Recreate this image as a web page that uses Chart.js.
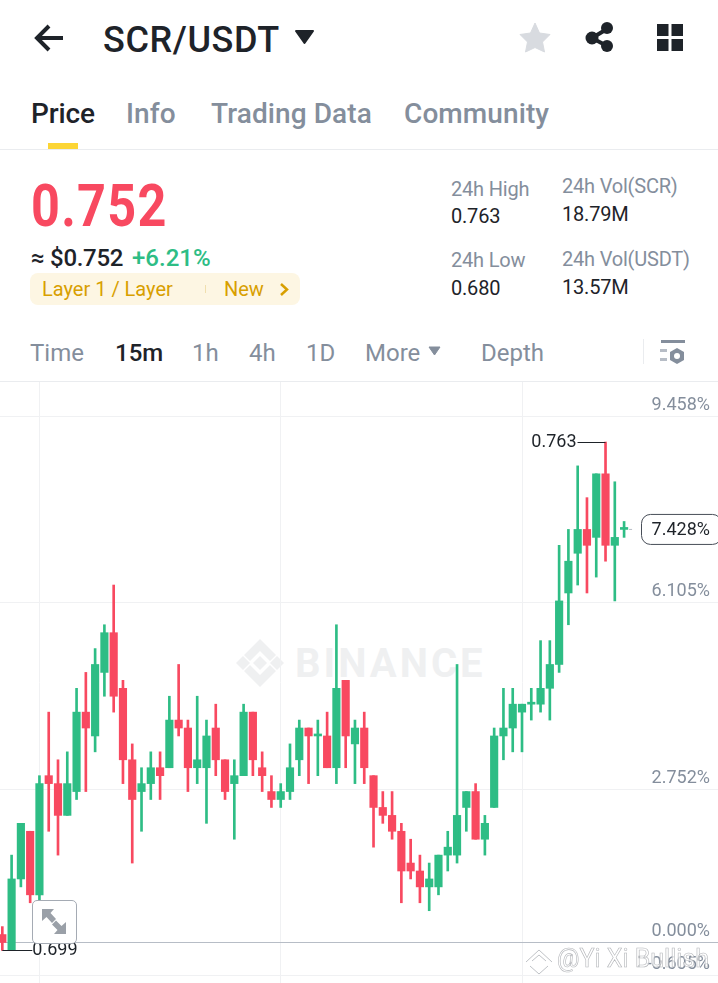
<!DOCTYPE html>
<html>
<head>
<meta charset="utf-8">
<script src="https://cdn.jsdelivr.net/npm/chart.js@4"></script>
<style>
  html, body { margin: 0; padding: 0; background: #fff; }
  body { width: 718px; height: 983px; position: relative; overflow: hidden; font-family: Roboto, sans-serif; color: #1e2329; }
  .t { position: absolute; white-space: nowrap; line-height: 1; }
  .gray { color: #848e9c; }
  .tab { font-size: 28px; top: 100px; color: #848e9c; font-weight: 500; letter-spacing: 0.1px; }
  .stat { font-size: 20px; letter-spacing: -0.2px; }
  .per { font-size: 24px; top: 341px; color: #848e9c; }
  .hr { position: absolute; left: 0; width: 718px; height: 1px; background: #eaecef; }
  svg { position: absolute; overflow: visible; }
  #kline { position: absolute; left: 0; top: 382px; }
</style>
</head>
<body>

<!-- top bar -->
<svg style="left:0;top:0" width="718" height="60">
  <path d="M63 38H38M49 26L37 38L49 50" fill="none" stroke="#1e2329" stroke-width="4"/>
  <path d="M296 31H313L304.500 43Z" fill="#1e2329" stroke="#1e2329" stroke-width="2" stroke-linejoin="round"/>
  <path d="M535 23L539.500 33L550 34.500L542.500 42L544.500 52L535 47.500L525.500 52L527.500 42L520 34.500L530.500 33Z" fill="#d8dbe0" stroke="#d8dbe0" stroke-linejoin="round"/>
  <path d="M607 29L592 38L607 46" fill="none" stroke="#1e2329" stroke-width="4"/>
  <circle cx="607" cy="28" r="6" fill="#1e2329"/><circle cx="592" cy="38" r="6.500" fill="#1e2329"/><circle cx="607" cy="46" r="6" fill="#1e2329"/>
  <rect x="657" y="24" width="11.500" height="12" fill="#1e2329"/><rect x="671.500" y="24" width="11.500" height="12" fill="#1e2329"/>
  <rect x="657" y="39" width="11.500" height="12" fill="#1e2329"/><rect x="671.500" y="39" width="11.500" height="12" fill="#1e2329"/>
</svg>
<div class="t" style="left:103px;top:22px;font-size:36px;font-weight:500;letter-spacing:0.6px">SCR/USDT</div>

<!-- tabs -->
<div class="t tab" style="left:31px;color:#1e2329;letter-spacing:-0.1px">Price</div>
<div class="t tab" style="left:126px">Info</div>
<div class="t tab" style="left:211px">Trading Data</div>
<div class="t tab" style="left:404px">Community</div>
<div style="position:absolute;left:48px;top:143px;width:30px;height:6px;background:#fcd535"></div>
<div class="hr" style="top:149px"></div>

<!-- price block -->
<div class="t" style="left:31px;top:176px;font-size:60px;font-weight:700;color:#f84960;letter-spacing:1.500px;transform:scaleX(0.84);transform-origin:left">0.752</div>
<div class="t" style="left:31px;top:246px;font-size:24px;letter-spacing:-0.3px;font-weight:500">≈ $0.752</div>
<div class="t" style="left:132px;top:246px;font-size:24px;color:#2ebd85;font-weight:500">+6.21%</div>
<div style="position:absolute;left:30px;top:273px;width:270px;height:32px;background:#fdf6e3;border-radius:8px"></div>
<div class="t" style="left:42px;top:279px;font-size:20px;color:#d89f00">Layer 1 / Layer</div>
<div style="position:absolute;left:205px;top:285px;width:1px;height:8px;background:#f0dfae"></div>
<div class="t" style="left:224px;top:279px;font-size:20px;color:#d89f00">New</div>
<svg style="left:0;top:0" width="718" height="320">
  <path d="M281 284L287 289.500L281 295" fill="none" stroke="#d89f00" stroke-width="2.500"/>
</svg>

<!-- 24h stats -->
<div class="t stat gray" style="left:451px;top:179px">24h High</div>
<div class="t stat" style="left:451px;top:206px">0.763</div>
<div class="t stat gray" style="left:562px;top:176px">24h Vol(SCR)</div>
<div class="t stat" style="left:562px;top:204px">18.79M</div>
<div class="t stat gray" style="left:451px;top:250px">24h Low</div>
<div class="t stat" style="left:451px;top:278px">0.680</div>
<div class="t stat gray" style="left:562px;top:249px">24h Vol(USDT)</div>
<div class="t stat" style="left:562px;top:277px">13.57M</div>

<!-- interval bar -->
<div class="t per" style="left:30px">Time</div>
<div class="t per" style="left:115px;color:#1e2329;font-weight:500">15m</div>
<div class="t per" style="left:192px">1h</div>
<div class="t per" style="left:249px">4h</div>
<div class="t per" style="left:306px">1D</div>
<div class="t per" style="left:365px">More</div>
<div class="t per" style="left:481px">Depth</div>
<svg style="left:0;top:0" width="718" height="382">
  <path d="M429 347H440L434.500 355Z" fill="#848e9c" stroke="#848e9c" stroke-linejoin="round"/>
  <rect x="643" y="339" width="1" height="25" fill="#eaecef"/>
  <rect x="661" y="340" width="24" height="3" fill="#848e9c"/>
  <rect x="660" y="349" width="7" height="3" fill="#b7bdc6"/>
  <rect x="660" y="358" width="7" height="3" fill="#b7bdc6"/>
  <path d="M677 348L684 352V360L677 364L670 360V352Z" fill="#848e9c"/>
  <circle cx="677" cy="356" r="3" fill="#fff"/>
</svg>
<div class="hr" style="top:381px"></div>

<!-- watermark behind the candles -->
<svg style="left:0;top:0" width="718" height="983">
  <g fill="#eff0f1">
    <path d="M260 639L276 655L270 661L260 651L250 661L244 655Z"/>
    <path d="M260 687L276 671L270 665L260 675L250 665L244 671Z"/>
    <path d="M260 656L267 663L260 670L253 663Z"/>
    <path d="M243 656L250 663L243 670L236 663Z"/>
    <path d="M277 656L284 663L277 670L270 663Z"/>
  </g>
</svg>
<div class="t" style="left:295px;top:644px;font-size:40px;font-weight:700;color:#eff0f1;letter-spacing:3px">BINANCE</div>

<canvas id="kline" width="718" height="601"></canvas>

<!-- expand button -->
<div style="position:absolute;left:32px;top:900px;width:43px;height:42px;background:#fff;border:1px solid #a5abb4;border-radius:5px"></div>
<svg style="left:0;top:0" width="718" height="983">
  <path d="M42 909H54L50.500 913L56 919L52 923L46.500 917L42 921Z" fill="#9aa0a8"/>
  <path d="M66 934H54L57.500 930L52 924.500L56 920.500L61.500 926L66 922Z" fill="#9aa0a8"/>
</svg>

<!-- repost watermark -->
<svg style="left:0;top:0" width="718" height="983">
  <path d="M526 962L539 950L552 962M532 961L539 955L546 961M530 966L539 974L548 966" fill="none" stroke="#bfc2c6" stroke-width="1"/>
</svg>
<div class="t" style="left:557px;top:946px;font-size:25px;color:rgba(255,255,255,0.75);-webkit-text-stroke:0.6px #b4b6ba">@Yi Xi Bullish</div>

<script>
// ─────────────────────────────────────────────
//  Candle data (USDT)
// ─────────────────────────────────────────────
const opens = [
  0.701, 0.699, 0.708, 0.714, 0.706, 0.721, 0.720, 0.716, 0.719, 0.729,
  0.726, 0.734, 0.739, 0.732, 0.723, 0.719, 0.720, 0.722, 0.722, 0.728,
  0.727, 0.722, 0.722, 0.727, 0.723, 0.720, 0.721, 0.729, 0.722, 0.719,
  0.718, 0.719, 0.723, 0.727, 0.726, 0.726, 0.722, 0.733, 0.725, 0.727,
  0.721, 0.717, 0.716, 0.714, 0.710, 0.709, 0.707, 0.707, 0.711, 0.711,
  0.717, 0.719, 0.713, 0.717, 0.726, 0.727, 0.729, 0.730, 0.730, 0.732,
  0.735, 0.744, 0.749, 0.752, 0.751, 0.759, 0.750, 0.752,
];
const closes = [
  0.700, 0.708, 0.715, 0.706, 0.720, 0.720, 0.716, 0.720, 0.729, 0.727,
  0.735, 0.739, 0.731, 0.723, 0.718, 0.720, 0.722, 0.721, 0.728, 0.727,
  0.722, 0.723, 0.726, 0.723, 0.719, 0.721, 0.729, 0.723, 0.721, 0.718,
  0.719, 0.722, 0.727, 0.726, 0.726, 0.722, 0.732, 0.726, 0.727, 0.722,
  0.717, 0.716, 0.714, 0.709, 0.709, 0.707, 0.708, 0.711, 0.712, 0.716,
  0.719, 0.713, 0.715, 0.726, 0.727, 0.730, 0.730, 0.730, 0.732, 0.735,
  0.743, 0.748, 0.752, 0.750, 0.759, 0.750, 0.751, 0.752,
];
const highs = [
  0.702, 0.711, 0.715, 0.714, 0.721, 0.729, 0.723, 0.724, 0.732, 0.734,
  0.737, 0.740, 0.745, 0.733, 0.725, 0.722, 0.724, 0.724, 0.731, 0.735,
  0.728, 0.731, 0.728, 0.730, 0.723, 0.723, 0.730, 0.729, 0.724, 0.721,
  0.720, 0.725, 0.728, 0.727, 0.728, 0.729, 0.740, 0.733, 0.728, 0.729,
  0.721, 0.719, 0.719, 0.715, 0.713, 0.711, 0.710, 0.711, 0.714, 0.735,
  0.719, 0.720, 0.716, 0.727, 0.732, 0.732, 0.730, 0.732, 0.738, 0.738,
  0.750, 0.752, 0.760, 0.756, 0.759, 0.763, 0.758, 0.753,
];
const lows = [
  0.699, 0.699, 0.707, 0.705, 0.705, 0.714, 0.711, 0.716, 0.718, 0.719,
  0.724, 0.731, 0.729, 0.720, 0.710, 0.714, 0.718, 0.718, 0.722, 0.726,
  0.719, 0.720, 0.715, 0.721, 0.718, 0.713, 0.721, 0.721, 0.719, 0.717,
  0.717, 0.718, 0.721, 0.720, 0.721, 0.722, 0.720, 0.722, 0.720, 0.720,
  0.712, 0.715, 0.713, 0.705, 0.708, 0.705, 0.704, 0.706, 0.709, 0.710,
  0.714, 0.713, 0.711, 0.717, 0.723, 0.724, 0.724, 0.728, 0.729, 0.728,
  0.734, 0.740, 0.745, 0.744, 0.746, 0.748, 0.743, 0.751,
];

// Right-hand axis: price at each gridline and the percent text printed on it
const yTickPrices = [0.76621, 0.74274, 0.71926, 0.700, 0.69579];
const yTickLabels = ["9.458%", "6.105%", "2.752%", "0.000%", "-0.605%"];
const xGridCandles = [4, 30, 56];
const lastPctLabel = "7.428%";

const C_UP   = "#2ebd85";
const C_DOWN = "#f84960";
const candleIdx = opens.map((_, i) => i);
const candleCol = candleIdx.map((i) => (closes[i] >= opens[i] ? C_UP : C_DOWN));

// ─────────────────────────────────────────────
//  High / low call-outs and the last price tag
// ─────────────────────────────────────────────
const calloutPlugin = {
  id: "callouts",
  afterDraw(chart) {
    const { ctx, scales: { x, y } } = chart;
    ctx.save();
    ctx.font = "18px Roboto";
    ctx.textBaseline = "middle";
    ctx.strokeStyle = "#1e2329";
    ctx.fillStyle = "#1e2329";
    ctx.lineWidth = 1;

    // highest high, label to the left
    const hi = highs.indexOf(Math.max(...highs));
    const hx = x.getPixelForValue(hi), hy = Math.round(y.getPixelForValue(highs[hi])) + 0.5;
    ctx.beginPath(); ctx.moveTo(hx - 28, hy); ctx.lineTo(hx, hy); ctx.stroke();
    ctx.textAlign = "right";
    ctx.fillText(highs[hi].toFixed(3), hx - 29, hy);

    // lowest low, label to the right
    const lo = lows.indexOf(Math.min(...lows));
    const lx = x.getPixelForValue(lo), ly = Math.round(y.getPixelForValue(lows[lo])) + 0.5;
    ctx.beginPath(); ctx.moveTo(lx, ly); ctx.lineTo(lx + 30, ly); ctx.stroke();
    ctx.textAlign = "left";
    ctx.fillText(lows[lo].toFixed(3), lx + 30, ly);

    // last price tag
    const last = closes.length - 1;
    const py = y.getPixelForValue(closes[last]);
    const px = x.getPixelForValue(last);
    ctx.strokeStyle = "#b7bdc6";
    ctx.beginPath(); ctx.moveTo(px + 5, py); ctx.lineTo(px + 8, py); ctx.stroke();
    ctx.strokeStyle = "#474d57";
    ctx.fillStyle = "#fff";
    ctx.beginPath(); ctx.roundRect(641.5, py - 15, 80, 30, 9); ctx.fill(); ctx.stroke();
    ctx.fillStyle = "#1e2329";
    ctx.textAlign = "right";
    ctx.fillText(lastPctLabel, 710, py + 1);
    ctx.restore();
  },
};

// Mirrored labels sit inside the plot, so the plot keeps the full canvas
const noPadding = (s) => {
  s.width = 0;
  s.paddingTop = 0;
  s.paddingBottom = 0;
  s.paddingLeft = 0;
  s.paddingRight = 0;
};

// ─────────────────────────────────────────────
//  Candles: wick and body as two floating bars
// ─────────────────────────────────────────────
new Chart(document.getElementById("kline"), {
  type: "bar",
  data: {
    datasets: [
      {
        label: "Wick",
        data: candleIdx.map((i) => ({ x: i, y: [lows[i], highs[i]] })),
        backgroundColor: candleCol,
        barThickness: 2,
        grouped: false,
      },
      {
        label: "Body",
        data: candleIdx.map((i) => ({ x: i, y: [opens[i], closes[i]] })),
        backgroundColor: candleCol,
        barThickness: 7.5,
        minBarLength: 2,
        grouped: false,
      },
    ],
  },
  options: {
    responsive: false,
    animation: false,
    layout: { padding: 0 },
    plugins: { legend: { display: false }, tooltip: { enabled: false } },
    scales: {
      x: {
        type: "linear",
        offset: false,
        min: -0.25,
        max: 77.12,
        border: { display: false },
        grid: { offset: false, color: "#f0f1f3", drawTicks: false },
        ticks: { display: false },
        afterBuildTicks: (s) => { s.ticks = xGridCandles.map((v) => ({ value: v })); },
      },
      y: {
        position: "right",
        min: 0.6949,
        max: 0.77056,
        border: { display: false },
        grid: {
          drawTicks: false,
          color: (c) => (c.tick && c.tick.value === 0.700 ? "#b7bdc6" : "#f0f1f3"),
        },
        ticks: {
          mirror: true,
          autoSkip: false,
          padding: -8,
          labelOffset: -11,
          color: "#848e9c",
          font: { family: "Roboto", size: 18 },
          callback: (v, i) => yTickLabels[i],
        },
        afterFit: noPadding,
        afterBuildTicks: (s) => { s.ticks = yTickPrices.map((v) => ({ value: v })); },
      },
    },
  },
  plugins: [calloutPlugin],
});
</script>
</body>
</html>
